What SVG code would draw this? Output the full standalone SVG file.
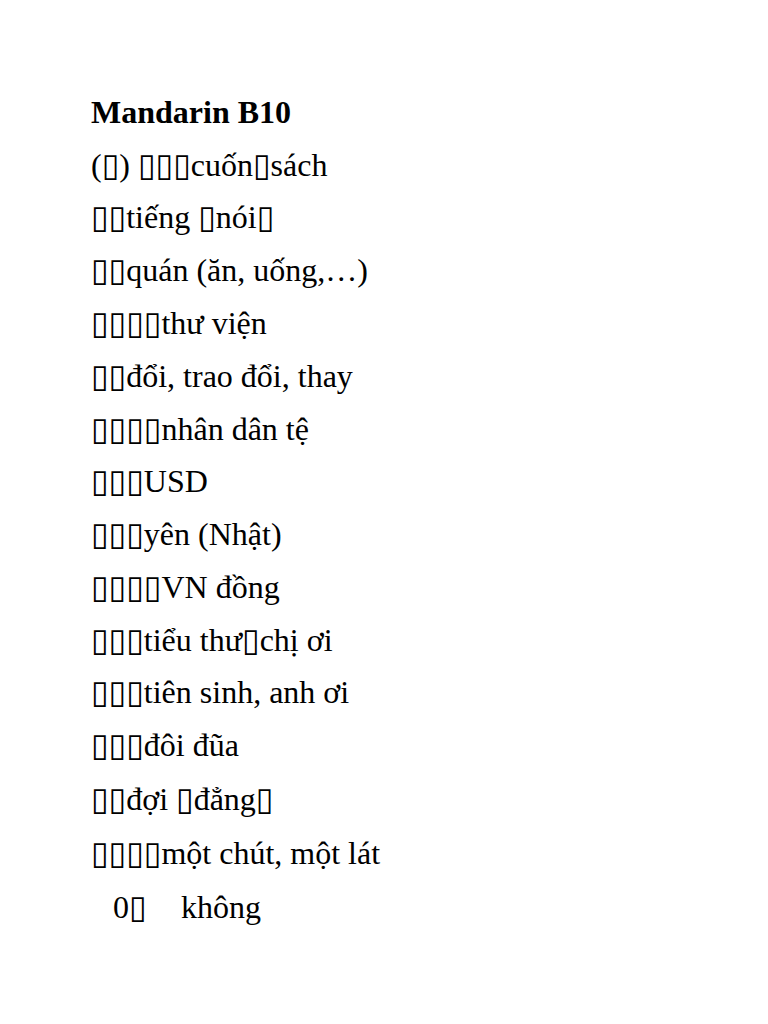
<svg xmlns="http://www.w3.org/2000/svg" width="768" height="1024" viewBox="0 0 768 1024">
<style>
text{font-family:"Liberation Serif","DejaVu Serif",serif;font-size:32px;fill:#000}
.t{font-weight:bold}
</style>
<rect width="768" height="1024" fill="#fff"/>
<text class="t" x="91" y="123">Mandarin B10</text>
<text x="91" y="176">(▯) ▯▯▯cuốn▯sách</text>
<text x="91" y="228">▯▯tiếng ▯nói▯</text>
<text x="91" y="281">▯▯quán (ăn, uống,…)</text>
<text x="91" y="334">▯▯▯▯thư viện</text>
<text x="91" y="387">▯▯đổi, trao đổi, thay</text>
<text x="91" y="440">▯▯▯▯nhân dân tệ</text>
<text x="91" y="492">▯▯▯USD</text>
<text x="91" y="545">▯▯▯yên (Nhật)</text>
<text x="91" y="598">▯▯▯▯VN đồng</text>
<text x="91" y="651">▯▯▯tiểu thư▯chị ơi</text>
<text x="91" y="703">▯▯▯tiên sinh, anh ơi</text>
<text x="91" y="756">▯▯▯đôi đũa</text>
<text x="91" y="810">▯▯đợi ▯đẳng▯</text>
<text x="91" y="864">▯▯▯▯một chút, một lát</text>
<text x="113" y="918">0▯</text>
<text x="181" y="918">không</text>
</svg>
